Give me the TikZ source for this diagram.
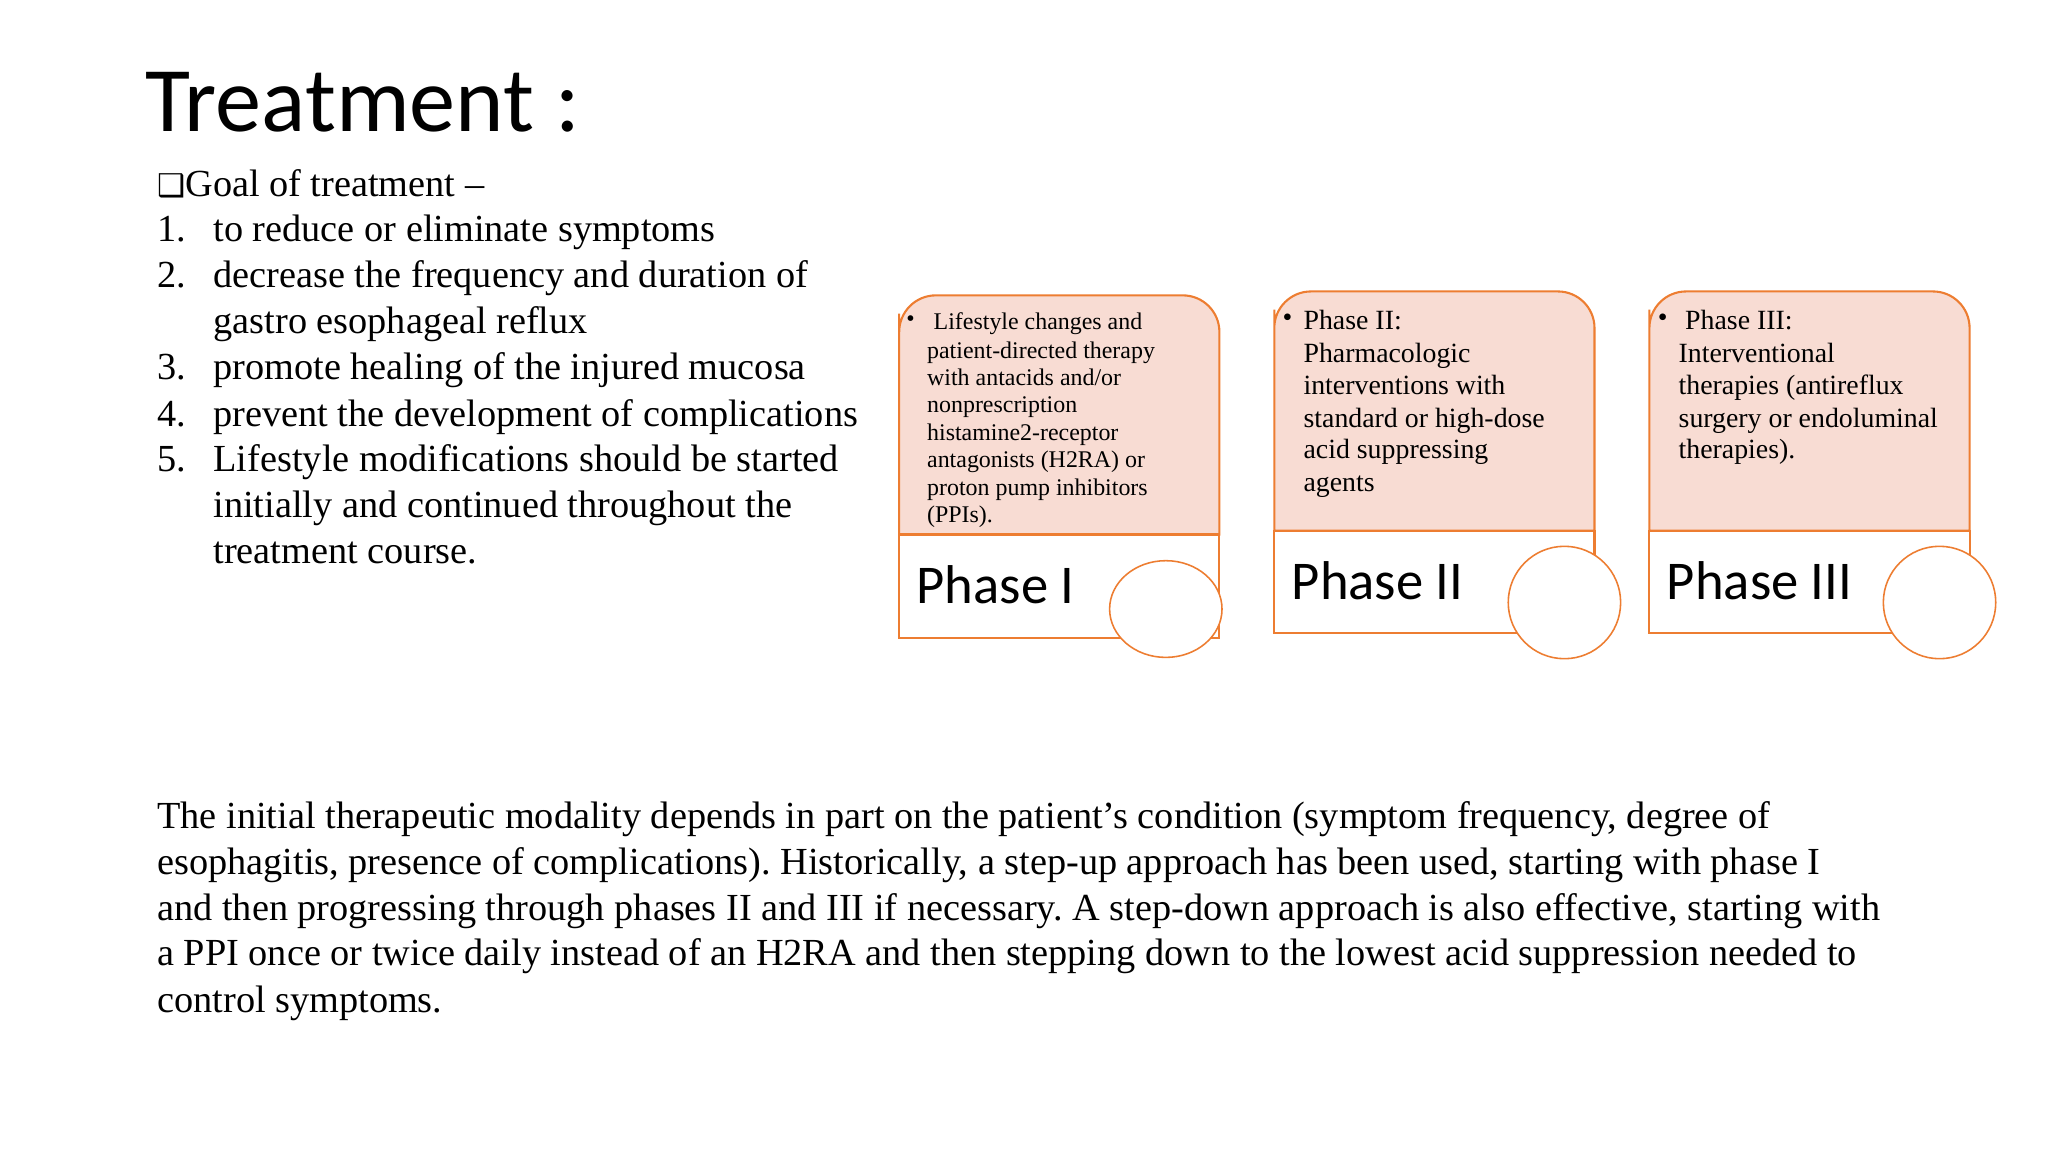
\documentclass[tikz,border=0pt]{standalone}
\usepackage{fontspec}
\setmainfont{Liberation Serif}
\newfontfamily\carfont{Carlito}
\newfontfamily\dvfont{DejaVu Sans}
\definecolor{org}{HTML}{ED7D31}
\definecolor{pk}{HTML}{F8DCD3}
\frenchspacing
\tikzset{ln/.style={anchor=base west,inner sep=0pt,font=\fontsize{14.65}{17}\selectfont},
 bx/.style={anchor=base west,inner sep=0pt,font=\fontsize{9.15}{11}\selectfont},
 by/.style={anchor=base west,inner sep=0pt,font=\fontsize{10.65}{12}\selectfont},
 ph/.style={anchor=base west,inner sep=0pt,font=\carfont\fontsize{20.9}{24}\selectfont},
 top/.style={draw=org,fill=pk,line width=0.8pt},
 bot/.style={draw=org,fill=white,line width=0.8pt},
 circ/.style={draw=org,fill=white,line width=0.6pt}}
\begin{document}
\begin{tikzpicture}[x=0.5pt,y=-0.5pt]
\useasboundingbox (0,0) rectangle (1567,881);
\node[anchor=base west,inner sep=0pt,font=\carfont\fontsize{35.3}{40}\selectfont] (t) at (111,101) {Treatment :};
\node[ln] (g) at (120,150) {{\dvfont\fontsize{12}{14}\selectfont ❑}Goal of treatment –};
\foreach \n/\y/\t in {1./185/to reduce or eliminate symptoms,2./220/decrease the frequency and duration of,/255/gastro esophageal reflux,3./290/promote healing of the injured mucosa,4./326/prevent the development of complications,5./361/Lifestyle modifications should be started,/396/initially and continued throughout the,/431/treatment course.}{
 \node[ln] at (120,\y) {\n}; \node[ln] at (163,\y) {\t};}
\foreach \y/\t in {634/The initial therapeutic modality depends in part on the patient’s condition (symptom frequency{,} degree of,669/esophagitis{,} presence of complications). Historically{,} a step-up approach has been used{,} starting with phase I,704/and then progressing through phases II and III if necessary. A step-down approach is also effective{,} starting with,739/a PPI once or twice daily instead of an H2RA and then stepping down to the lowest acid suppression needed to,775/control symptoms.}{
 \node[ln] at (120,\y) {\t};}
% boxes
\draw[top] (688,409) -- (688,240) [rounded corners=14] -- (688,226) -- (933,226) [sharp corners] -- (933,409) -- cycle;
\draw[bot] (688,409) rectangle (933,488);
\draw[top] (975,406) -- (975,237) [rounded corners=14] -- (975,223) -- (1220,223) [sharp corners] -- (1220,406) -- cycle;
\draw[bot] (975,406) rectangle (1220,484);
\draw[top] (1262,406) -- (1262,237) [rounded corners=14] -- (1262,223) -- (1507,223) [sharp corners] -- (1507,406) -- cycle;
\draw[bot] (1262,406) rectangle (1507,484);
\draw[circ] (892,466) ellipse [x radius=43,y radius=37];
\draw[circ] (1197,461) circle [radius=43];
\draw[circ] (1484,461) circle [radius=43];
\node[ph] (p1) at (701,462) {Phase I};
\node[ph] (p2) at (988,459) {Phase II};
\node[ph] (p3) at (1275,459) {Phase III};
\node[bx] at (693,250) {•};
\node[bx] at (714,252) {Lifestyle changes and};
\foreach \y/\t in {274/patient-directed therapy,295/{with antacids and/or},316/nonprescription,337/histamine2-receptor,358/antagonists (H2RA) or,379/proton pump inhibitors,400/(PPIs).}{\node[bx] at (709,\y) {\t};}
\node[by] at (981,250) {•};
\foreach \y/\t in {252/Phase II:,277/Pharmacologic,302/interventions with,327/standard or high-dose,351/acid suppressing,376/agents}{\node[by] at (997,\y) {\t};}
\node[by] at (1268,250) {•};
\node[by] at (1289,252) {Phase III:};
\foreach \y/\t in {277/Interventional,302/therapies (antireflux,327/surgery or endoluminal,351/therapies).}{\node[by] at (1284,\y) {\t};}
\end{tikzpicture}
\end{document}
